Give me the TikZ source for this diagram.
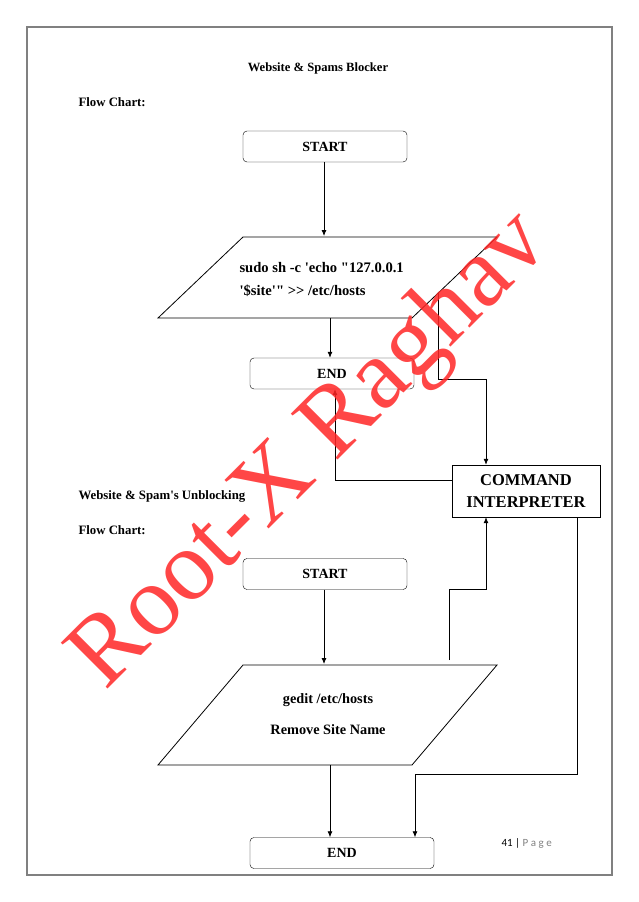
\documentclass[tikz,border=0pt]{standalone}
\usepackage{fontspec}
\setmainfont{Liberation Serif}[Ligatures=TeXOff]
\newfontfamily\pagefont{Carlito}
\usetikzlibrary{arrows.meta}
\begin{document}
\begin{tikzpicture}[x=1pt,y=-1pt,
  box/.style={draw,rounded corners=4pt,minimum width=164pt,minimum height=31pt,font=\bfseries\fontsize{14}{16}\selectfont,inner sep=0pt},
  lbl/.style={anchor=west,font=\bfseries\fontsize{12.8}{15}\selectfont},
  con/.style={line width=0.8pt},
  arr/.style={con,-{Latex[length=6pt,width=5pt]}}]
\useasboundingbox (0,0) rectangle (638,902);
\draw[gray,line width=1.5pt] (27,27) rectangle (612,875);
\node[font=\bfseries\fontsize{12.6}{15}\selectfont] (title) at (318,68) {Website \& Spams Blocker};
\node[lbl] (fc1) at (75,102) {Flow Chart:};
\node[box] (s1) at (325,146.5) {START};
\draw[con] (243,237) coordinate (p1a) -- (497,237) coordinate (p1b) -- (412,318) coordinate (p1c) -- (158,318) coordinate (p1d) -- cycle;
\node[anchor=west,align=left,font=\bfseries\fontsize{14.6}{23}\selectfont] (t1) at (236,279) {sudo sh -c 'echo "127.0.0.1\\'\$site'" >{}> /etc/hosts};
\node[box] (e1) at (332,373.5) {END};
\node[draw,minimum width=148pt,minimum height=52pt,align=center,inner sep=0pt,font=\bfseries\fontsize{16.5}{22}\selectfont] (cmd) at (526,491) {COMMAND\\INTERPRETER};
\node[lbl] (t2) at (75,496) {Website \& Spam's Unblocking};
\node[lbl] (fc2) at (75,530) {Flow Chart:};
\node[box] (s2) at (325,574) {START};
\draw[con] (243,665) coordinate (p2a) -- (497,665) coordinate (p2b) -- (412,765) coordinate (p2c) -- (158,765) coordinate (p2d) -- cycle;
\node[font=\bfseries\fontsize{14.3}{16}\selectfont] (g1) at (328,700) {gedit /etc/hosts};
\node[font=\bfseries\fontsize{14.3}{16}\selectfont] (g2) at (328,730) {Remove Site Name};
\node[box,minimum width=184pt] (e2) at (342,853) {END};
\node[anchor=west,font=\pagefont\fontsize{11}{13}\selectfont] (pg) at (498,843) {41 | {\color{gray}P a g e}};
% connectors
\draw[arr] (s1.south -| 324,0) -- (324,236);
\draw[arr] (330,318) -- (e1.north -| 330,0);
\coordinate (k1) at (438,293);
\draw[arr] (k1) -- (438,379) -- (486,379) -- (cmd.north -| 486,0);
\draw[arr] (cmd.west |- 0,480) -- (335,480) -- (e1.south -| 335,0);
\draw[arr] (s2.south -| 324,0) -- (324,664);
\coordinate (k2) at (449,660);
\draw[arr] (k2) -- (449,589) -- (486,589) -- (cmd.south -| 486,0);
\draw[arr] (cmd.south -| 577,0) -- (577,774) -- (415,774) -- (e2.north -| 415,0);
\draw[arr] (330,765) -- (e2.north -| 330,0);
% watermark
\node[rotate=45,text=red!85!white,opacity=0.85,font=\fontsize{100}{110}\selectfont] (wm) at (312,452) {Root-X Raghav};
\end{tikzpicture}
\end{document}
